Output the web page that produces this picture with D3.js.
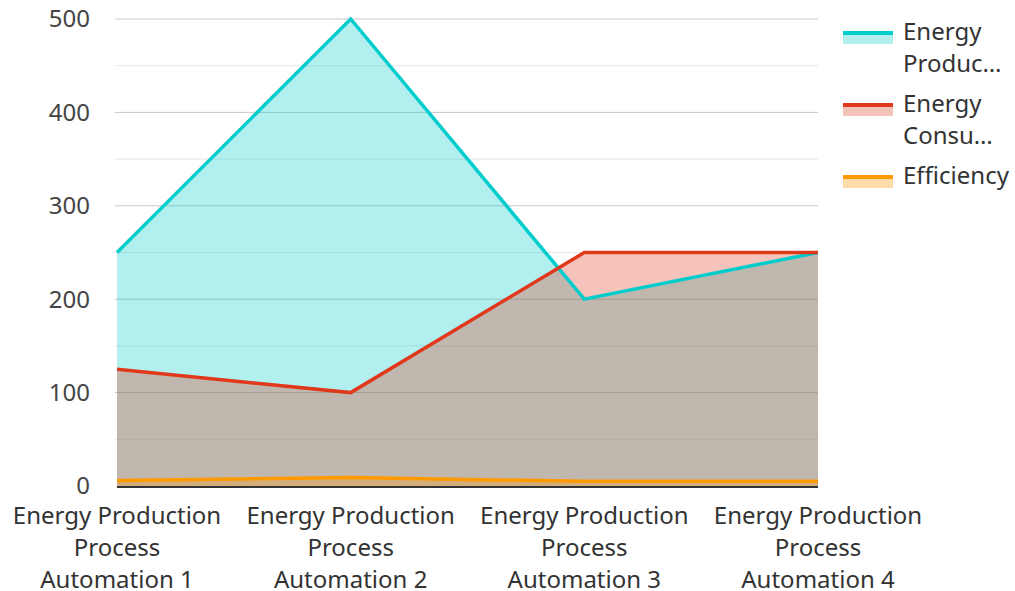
<!DOCTYPE html>
<html>
<head>
<meta charset="utf-8">
<script src="https://cdn.jsdelivr.net/npm/d3@7"></script>
<style>
  html, body { margin: 0; padding: 0; background: #fff; }
  svg { display: block; font-family: "Noto Sans", sans-serif; }
</style>
</head>
<body>
<svg id="chart" width="1015" height="591"></svg>
<script>
// Categories and series
const categories = [
  "Energy Production Process Automation 1",
  "Energy Production Process Automation 2",
  "Energy Production Process Automation 3",
  "Energy Production Process Automation 4"
];
const categoryLines = [
  ["Energy Production", "Process", "Automation 1"],
  ["Energy Production", "Process", "Automation 2"],
  ["Energy Production", "Process", "Automation 3"],
  ["Energy Production", "Process", "Automation 4"]
];
const seriesNames = ["Energy Production", "Energy Consumption", "Efficiency"];
const energyProduction = [250, 500, 200, 250];
const energyConsumption = [125, 100, 250, 250];
const efficiency = [6, 9, 5, 5];
const yTicks = [0, 100, 200, 300, 400, 500];
const yMinorTicks = [50, 150, 250, 350, 450];

const colors = ["#00cccc", "#e0381a", "#ff9900"];
const legendFills = ["#b2eeee", "#f3c3b9", "#ffdcac"];

const svg = d3.select("#chart");
const margin = { left: 117, right: 197, top: 19, bottom: 105 };
const W = 1015, H = 591;
const FS = 24;

const x = d3.scalePoint().domain(categories).range([margin.left, W - margin.right]);
const y = d3.scaleLinear().domain([0, 500]).range([H - margin.bottom, margin.top]);

// Grid lines
const grid = svg.append("g");
grid.selectAll("line.minor").data(yMinorTicks).join("line")
  .attr("x1", margin.left - 2).attr("x2", W - margin.right)
  .attr("y1", d => y(d)).attr("y2", d => y(d))
  .attr("stroke", "#e8e8e8").attr("stroke-width", 1);
grid.selectAll("line.major").data(yTicks.filter(d => d > 0)).join("line")
  .attr("x1", margin.left - 2).attr("x2", W - margin.right)
  .attr("y1", d => y(d)).attr("y2", d => y(d))
  .attr("stroke", "#c8c8c8").attr("stroke-width", 1);

// Y axis labels
svg.append("g").selectAll("text").data(yTicks).join("text")
  .attr("x", 90).attr("y", d => y(d)).attr("dy", "0.35em")
  .attr("text-anchor", "end").attr("font-size", FS).attr("fill", "#444")
  .text(d => d);

const seriesData = [energyProduction, energyConsumption, efficiency];

const area = d3.area()
  .x((d, i) => x(categories[i]))
  .y0(y(0))
  .y1(d => y(d));
const line = d3.line()
  .x((d, i) => x(categories[i]))
  .y(d => y(d));

// Areas (translucent), then lines on top
svg.append("g").selectAll("path").data(seriesData).join("path")
  .attr("d", d => area(d))
  .attr("fill", (d, i) => colors[i])
  .attr("fill-opacity", 0.3);

svg.append("g").selectAll("path").data(seriesData).join("path")
  .attr("d", d => line(d))
  .attr("fill", "none")
  .attr("stroke", (d, i) => colors[i])
  .attr("stroke-width", 3.5)
  .attr("stroke-linejoin", "miter");

// X axis baseline
svg.append("line")
  .attr("x1", margin.left).attr("x2", W - margin.right)
  .attr("y1", y(0) + 1).attr("y2", y(0) + 1)
  .attr("stroke", "#333").attr("stroke-width", 2);

// X axis labels
const xl = svg.append("g").selectAll("text").data(categories).join("text")
  .attr("x", d => x(d)).attr("y", y(0) + 38)
  .attr("text-anchor", "middle").attr("font-size", FS).attr("fill", "#333");
xl.each(function(d, i) {
  const t = d3.select(this);
  categoryLines[i].forEach((ln, j) => {
    t.append("tspan").attr("x", x(d)).attr("dy", j === 0 ? 0 : 32).text(ln);
  });
});

// Legend
const legend = svg.append("g").attr("transform", "translate(843, 0)");
const maxTextW = 102;
seriesNames.forEach((name, i) => {
  const top = 31 + i * 72;
  legend.append("rect").attr("x", 0).attr("y", top + 3).attr("width", 50).attr("height", 10)
    .attr("fill", legendFills[i]);
  legend.append("rect").attr("x", 0).attr("y", top).attr("width", 50).attr("height", 4)
    .attr("fill", colors[i]);
  const t = legend.append("text").attr("x", 60).attr("y", top + 9)
    .attr("font-size", FS).attr("fill", "#333");
  // Wrap into at most two lines, truncating with an ellipsis
  const words = name.split(" ");
  const lines = [];
  let cur = "";
  const probe = legend.append("text").attr("font-size", FS).attr("visibility", "hidden");
  const width = s => { probe.text(s); return probe.node().getComputedTextLength(); };
  words.forEach(w => {
    const cand = cur ? cur + " " + w : w;
    if (width(cand) <= maxTextW || !cur) cur = cand; else { lines.push(cur); cur = w; }
  });
  lines.push(cur);
  const out = lines.slice(0, 2).map(s => {
    if (width(s) <= maxTextW + 10) return s;
    let k = s.length;
    while (k > 1 && width(s.slice(0, k) + "…") > maxTextW) k--;
    return s.slice(0, k) + "…";
  });
  probe.remove();
  out.forEach((s, j) => {
    t.append("tspan").attr("x", 60).attr("dy", j === 0 ? 0 : 32).text(s);
  });
});
</script>
</body>
</html>
